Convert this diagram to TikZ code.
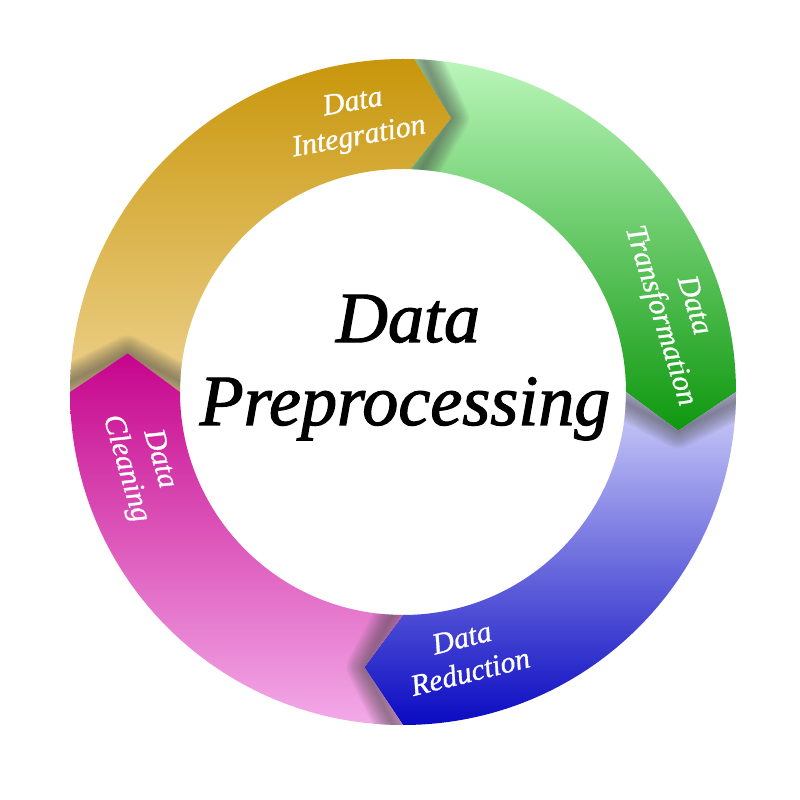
\documentclass[tikz,border=0pt]{standalone}
\usepackage{fontspec}
\setmainfont{Liberation Serif}
\newfontfamily\ttlfont{Liberation Serif}[FakeBold=1.6]
\newfontfamily\lblfont{Liberation Serif}[FakeBold=1.0]
\definecolor{goldT}{HTML}{C8960A}
\definecolor{goldB}{HTML}{EDD18C}
\definecolor{greenT}{HTML}{BAF6BA}
\definecolor{greenB}{HTML}{0E980E}
\definecolor{blueT}{HTML}{D2D2FB}
\definecolor{blueB}{HTML}{0A0AC2}
\definecolor{magT}{HTML}{C6048C}
\definecolor{magB}{HTML}{F3ABE9}
\begin{document}
\begin{tikzpicture}[x=1pt,y=1pt,
  lbl/.style={text=white,font=\lblfont\fontsize{30}{35}\selectfont\itshape,align=center,inner sep=0pt},
  ttl/.style={text=black,font=\ttlfont\fontsize{72}{84}\selectfont\itshape,inner sep=0pt,anchor=base}]
\useasboundingbox[fill=white] (0,0) rectangle (800,800);
\def\Ro{333}\def\Ri{223}\def\Rm{278}
\begin{scope}[shift={(403,408)}]
  % ring segments: start angle / base angle / top colour / bottom colour
  \foreach \a/\b/\ct/\cb in {180/88/goldT/goldB, 88/0/greenT/greenB, 0/-90/blueT/blueB, 270/180/magT/magB}{
    \shade[top color=\ct, bottom color=\cb]
      (\a:\Ro) arc[start angle=\a, end angle=\b, radius=\Ro]
      -- ({\b-8}:\Rm) -- (\b:\Ri)
      arc[start angle=\b, end angle=\a, radius=\Ri]
      -- ({\a-8}:\Rm) -- cycle;
    \begin{scope}
      \clip (\a:\Ro) arc[start angle=\a, end angle=\b, radius=\Ro]
      -- ({\b-8}:\Rm) -- (\b:\Ri)
      arc[start angle=\b, end angle=\a, radius=\Ri]
      -- ({\a-8}:\Rm) -- cycle;
      \foreach \w in {36,34,...,2}{
        \draw[black!70, opacity=0.04, line width=\w pt, line join=round]
          (\a:\Ro+20) -- ({\a-8}:\Rm) -- (\a:\Ri-20);
      }
    \end{scope}
  }
\end{scope}
% labels
\node[lbl, rotate=10] (integ) at (356,679) {Data\\Integration};
\node[lbl, rotate=-73] (trans) at (676,489) {Data\\Transformation};
\node[lbl, rotate=14] (reduc) at (466,145) {Data\\Reduction};
\node[lbl, rotate=-74] (clean) at (142,336) {Data\\Cleaning};
% title
\node[ttl] (data) at (408,458) {Data};
\node[ttl] (prep) at (405,375) {Preprocessing};
\end{tikzpicture}
\end{document}
